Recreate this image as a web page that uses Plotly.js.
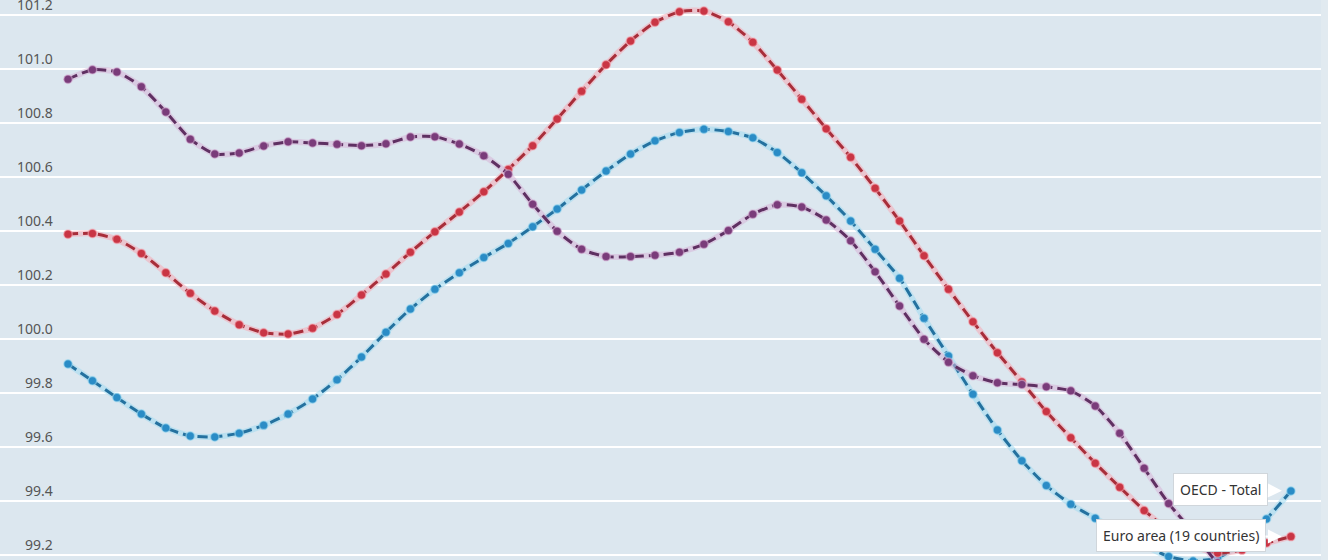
<!DOCTYPE html>
<html>
<head>
<meta charset="utf-8">
<script src="https://cdn.plot.ly/plotly-3.0.1.min.js"></script>
<style>
  html, body { margin: 0; padding: 0; background: #e1eaf0; }
  #chart { width: 1328px; height: 560px; }
</style>
</head>
<body>
<div id="chart"></div>
<script>
// Period index (monthly observations, left to right)
const periods = Array.from({length: 51}, (_, i) => i);

// OECD - Total (blue)
const oecdTotal = [99.906, 99.844, 99.782, 99.721, 99.669, 99.640, 99.636, 99.650, 99.679, 99.721,
  99.777, 99.848, 99.932, 100.024, 100.110, 100.183, 100.244, 100.301, 100.353, 100.415,
  100.480, 100.551, 100.621, 100.684, 100.733, 100.764, 100.776, 100.767, 100.744, 100.690,
  100.615, 100.529, 100.436, 100.331, 100.224, 100.076, 99.936, 99.794, 99.662, 99.548,
  99.456, 99.387, 99.335, 99.288, 99.236, 99.193, 99.177, 99.188, 99.243, 99.332, 99.436];

// Euro area (19 countries) (red)
const euroArea = [100.387, 100.390, 100.368, 100.316, 100.244, 100.168, 100.103, 100.052, 100.022, 100.017,
  100.039, 100.090, 100.162, 100.240, 100.320, 100.396, 100.469, 100.544, 100.627, 100.715,
  100.814, 100.916, 101.015, 101.103, 101.172, 101.211, 101.214, 101.174, 101.098, 100.995,
  100.887, 100.778, 100.672, 100.557, 100.436, 100.307, 100.183, 100.063, 99.948, 99.840,
  99.730, 99.633, 99.539, 99.450, 99.364, 99.291, 99.232, 99.206, 99.217, 99.243, 99.267];

// Third series (purple)
const thirdSeries = [100.961, 100.996, 100.988, 100.933, 100.840, 100.739, 100.684, 100.688, 100.714, 100.729,
  100.725, 100.720, 100.715, 100.722, 100.747, 100.748, 100.721, 100.678, 100.609, 100.498,
  100.398, 100.331, 100.304, 100.304, 100.309, 100.320, 100.350, 100.401, 100.461, 100.496,
  100.488, 100.440, 100.363, 100.248, 100.121, 99.998, 99.913, 99.863, 99.837, 99.830,
  99.822, 99.807, 99.751, 99.650, 99.520, 99.390, 99.284, 99.170, 99.120, 99.090, 99.070];

// Y-axis ticks
const tickValues = [99.2, 99.4, 99.6, 99.8, 100.0, 100.2, 100.4, 100.6, 100.8, 101.0, 101.2];
const tickLabels = ["\u200799.2", "\u200799.4", "\u200799.6", "\u200799.8", "100.0", "100.2", "100.4", "100.6", "100.8", "101.0", "101.2"];

const seriesList = [
  {name: "OECD - Total", y: oecdTotal, line: "#24719f", marker: "#2a8cc6", halo: "rgba(160,218,240,0.55)"},
  {name: "Euro area (19 countries)", y: euroArea, line: "#a82e3a", marker: "#c93544", halo: "rgba(245,170,180,0.55)"},
  {name: "Other", y: thirdSeries, line: "#5f3062", marker: "#7a3c7a", halo: "rgba(215,180,215,0.55)"}
];

const traces = [];
seriesList.forEach(s => {
  traces.push({
    x: periods, y: s.y, type: "scatter", mode: "lines",
    line: {color: s.halo, width: 6, shape: "spline", smoothing: 0.6},
    hoverinfo: "skip", showlegend: false
  });
  traces.push({
    x: periods, y: s.y, type: "scatter", mode: "lines+markers", name: s.name,
    line: {color: s.line, width: 3, dash: "10px,5px", shape: "spline", smoothing: 0.6},
    marker: {color: s.marker, size: 8.5, line: {color: s.halo, width: 1.5}},
    showlegend: false
  });
});

const annFont = {family: "Noto Sans, Open Sans, sans-serif", size: 14, color: "#333333"};

const layout = {
  width: 1328, height: 560,
  margin: {l: 0, r: 7, t: 0, b: 0, pad: 0},
  paper_bgcolor: "#e1eaf0",
  plot_bgcolor: "#dce7ef",
  showlegend: false,
  font: {family: "Noto Sans, Open Sans, sans-serif"},
  xaxis: {
    range: [-2.78, 51.23], showgrid: false, zeroline: false,
    showticklabels: false, ticks: "", showline: false
  },
  yaxis: {
    range: [99.1804, 101.2544],
    tickmode: "array", tickvals: tickValues, ticktext: tickLabels,
    showgrid: true, gridcolor: "#ffffff", gridwidth: 2,
    zeroline: false, showline: false, ticks: "",
    ticklabelposition: "inside top", ticklabeloverflow: "allow",
    ticklabelstandoff: 14,
    tickfont: {family: "Noto Sans, Open Sans, sans-serif", size: 14, color: "#555555"}
  },
  annotations: [
    {
      x: periods[periods.length - 1], y: oecdTotal[oecdTotal.length - 1],
      xref: "x", yref: "y", text: "OECD - Total",
      showarrow: true, ax: -70, ay: -1.5, arrowhead: 2, arrowsize: 1.4, arrowwidth: 2,
      arrowcolor: "#ffffff", standoff: 9,
      bgcolor: "#ffffff", bordercolor: "#d0d6db", borderwidth: 1, borderpad: 6,
      font: annFont
    },
    {
      x: periods[periods.length - 1], y: euroArea[euroArea.length - 1],
      xref: "x", yref: "y", text: "Euro area (19 countries)",
      showarrow: true, ax: -110, ay: -1, arrowhead: 2, arrowsize: 1.4, arrowwidth: 2,
      arrowcolor: "#ffffff", standoff: 9,
      bgcolor: "#ffffff", bordercolor: "#d0d6db", borderwidth: 1, borderpad: 6,
      font: annFont
    }
  ]
};

Plotly.newPlot("chart", traces, layout, {displayModeBar: false, staticPlot: true});
</script>
</body>
</html>
